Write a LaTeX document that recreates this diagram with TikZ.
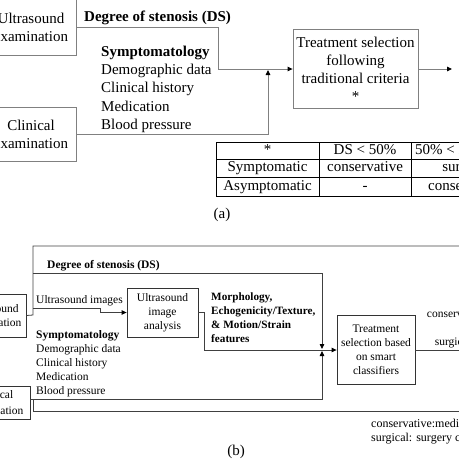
\documentclass[tikz,border=0pt]{standalone}
\usepackage{fontspec}
\setmainfont{Liberation Serif}
\usetikzlibrary{arrows.meta,positioning}
\tikzset{
	abox/.style={draw=black!50, line width=0.8pt, align=center, inner sep=0pt, font=\fontsize{15}{18}\selectfont},
	bbox/.style={draw=black!80, line width=0.8pt, align=center, inner sep=0pt, font=\fontsize{11.5}{14}\selectfont},
	aline/.style={draw=black!50, line width=0.9pt},
	bline/.style={draw=black!75, line width=0.8pt},
	tip/.style={-{Triangle[length=5pt,width=4.5pt,color=black]}},
	atxt/.style={anchor=west, inner sep=0pt, font=\fontsize{15}{18}\selectfont, text height=10.5pt, text depth=3.5pt},
	btxt/.style={anchor=west, inner sep=0pt, font=\fontsize{11.5}{14}\selectfont, text height=8pt, text depth=2.7pt},
	cell/.style={inner sep=0pt, font=\fontsize{15}{18}\selectfont, text height=10.5pt, text depth=3.5pt},
}
\begin{document}
\begin{tikzpicture}[x=1pt,y=-1pt]
		\useasboundingbox (0,0) rectangle (459,459);
		\clip (0,0) rectangle (459,459);
		
		%%%%% PART (a) %%%%%
		
		\node[abox, minimum width=90pt, minimum height=56pt] (usA) at (31,27) {Ultrasound\\examination};
		\node[abox, minimum width=90pt, minimum height=54pt] (clA) at (31,134) {Clinical\\examination};
		\node[abox, minimum width=125pt, minimum height=79pt] (trA) at (355.5,69) {Treatment selection\\following\\traditional criteria\\*};
		\coordinate (outA) at (452,69);
		
		\node[atxt, font=\fontsize{15}{18}\selectfont\bfseries] (dsA) at (84,18) {Degree of stenosis (DS)};
		\node[atxt, font=\fontsize{15}{18}\selectfont\bfseries] (symA) at (101,53) {Symptomatology};
		\foreach \t [count=\i] in {Demographic data, Clinical history, Medication, Blood pressure}
			\node[atxt] at (101, {53+18.2*\i}) {\t};
		
		\draw[aline, tip] (usA.east) -| (218,69) -- (trA.west);
		\draw[aline, tip] (clA.east) -| (268,70);
		\draw[aline, tip] (trA.east) -- (outA);
		
		% table
		\foreach \y in {142,159,177,196}
			\draw[line width=0.7pt] (216,\y) -- (530,\y);
		\foreach \x in {216,319,411}
			\draw[line width=0.7pt] (\x,142) -- (\x,196);
		\node[cell] at (267.5,150.5) {*};
		\node[cell] at (365,150.5) {DS < 50\%};
		\node[cell, anchor=west] at (415,150.5) {50\% < DS};
		\node[cell] at (267.5,168) {Symptomatic};
		\node[cell] at (365,168) {conservative};
		\node[cell] at (466,168) {surgical};
		\node[cell] at (267.5,186.5) {Asymptomatic};
		\node[cell] at (365,186.5) {-};
		\node[cell] at (466,186.5) {conservative};
		
		\node[cell] (capA) at (222,215) {(a)};
		
		%%%%% PART (b) %%%%%
		
		\node[bbox, minimum width=66pt, minimum height=43pt] (usB) at (-7,315.5) {Ultrasound\\examination};
		\node[bbox, minimum width=71pt, minimum height=49pt] (anB) at (162.5,312.5) {Ultrasound\\image\\analysis};
		\node[bbox, minimum width=78pt, minimum height=69pt] (trB) at (376,350) {Treatment\\selection based\\on smart\\classifiers};
		\node[bbox, minimum width=70pt, minimum height=33pt, font=\fontsize{11.5}{16}\selectfont] (clB) at (-5,402.5) {Clinical\\examination};
		
		\coordinate (jUS) at (33,315);
		\coordinate (jDS) at (33,273);
		\coordinate (jIM) at (33,308);
		\coordinate (jCL) at (33,399);
		
		\node[btxt, font=\fontsize{11.5}{14}\selectfont\bfseries] (dsB) at (47,266) {Degree of stenosis (DS)};
		\node[btxt] (imB) at (36,301) {Ultrasound images};
		\node[btxt, font=\fontsize{11.5}{14}\selectfont\bfseries] (symB) at (36,336) {Symptomatology};
		\foreach \t [count=\i] in {Demographic data, Clinical history, Medication, Blood pressure}
			\node[btxt] at (36, {336+14*\i}) {\t};
		\foreach \t [count=\i from 0] in {{Morphology,}, {Echogenicity/Texture,}, {\& Motion/Strain}, {features}}
			\node[btxt, font=\fontsize{11.2}{14}\selectfont\bfseries] at (211, {298+14*\i}) {\t};
		
		\draw[bline] (usB.east) -- (jUS) -- (33,246) -- (470,246);
		\draw[bline, tip] (jDS) -| (322,349);
		\draw[bline, tip] (jIM) -- (100,308) -- (100,312.5) -- (anB.west);
		\draw[bline, tip] (anB.east) -- (204,312.5) -- (204,350) -- (trB.west);
		\draw[bline] (clB.east |- 0,399) -- (jCL);
		\draw[bline, tip] (jCL) -| (322,351);
		\draw[bline] (jCL) -- (33,411) -- (470,411);
		\draw[bline] (trB.east) -- (470,350);
		
		\node[btxt, anchor=center] at (456,315) {conservative};
		\node[btxt, anchor=center] at (453,343) {surgical};
		
		\node[btxt, font=\fontsize{12}{14}\selectfont] at (371,425) {conservative:medication};
		\node[btxt, font=\fontsize{12}{14}\selectfont] at (371,439) {surgical: surgery c};
		
		\node[cell] (capB) at (236,452) {(b)};
		
\end{tikzpicture}
\end{document}
